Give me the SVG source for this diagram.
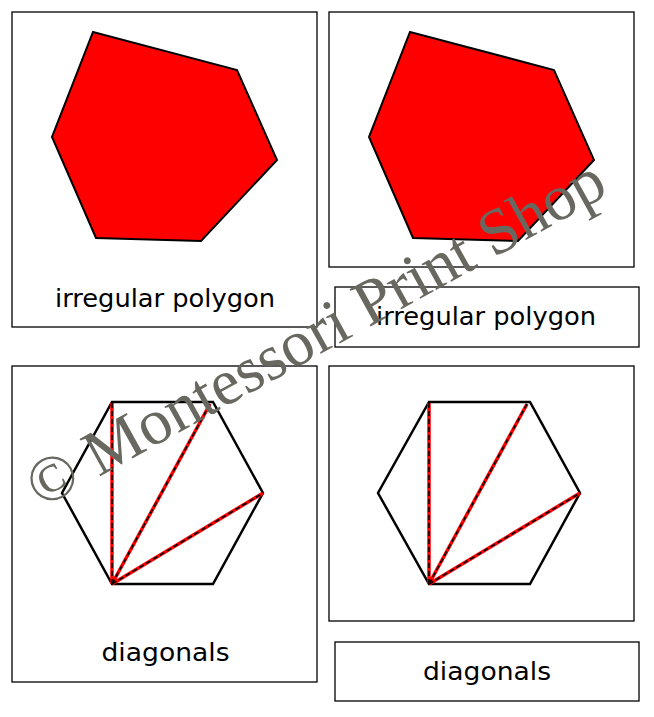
<svg xmlns="http://www.w3.org/2000/svg" width="654" height="717" viewBox="0 0 654 717">
<style>
.card{fill:#fff;stroke:#000;stroke-width:1.3}
.poly{fill:#ff0000;stroke:#000;stroke-width:2;stroke-linejoin:miter}
.hex{fill:none;stroke:#000;stroke-width:2.5;stroke-linejoin:miter}
.dr{stroke:#ff0000;stroke-width:3.5;fill:none}
.dk{stroke:#000;stroke-width:1.6;stroke-dasharray:5 3;fill:none}
.lbl{font-family:"Century Gothic","DejaVu Sans",sans-serif;font-size:24px;fill:#000;text-anchor:middle}
.wm{font-family:"Liberation Serif","Times New Roman",serif;font-size:65px;fill:#686860}
</style>
<rect width="654" height="717" fill="#fff"/>
<g id="card-polygon-labeled">
<rect class="card" x="12" y="12" width="305" height="315"/>
<polygon class="poly" points="93,32 237,70 277,160 201,241 96,238 52,137"/>
<text class="lbl" x="165" y="307" textLength="220" lengthAdjust="spacingAndGlyphs">irregular polygon</text>
</g>
<g id="card-polygon-picture">
<rect class="card" x="329" y="12" width="305" height="255"/>
<polygon class="poly" points="410,32 554,70 594,160 518,241 413,238 369,137"/>
</g>
<g id="label-polygon">
<rect class="card" x="335" y="287" width="304" height="60"/>
<text class="lbl" x="486" y="325" textLength="220" lengthAdjust="spacingAndGlyphs">irregular polygon</text>
</g>
<g id="card-diagonals-labeled">
<rect class="card" x="12" y="366" width="305" height="316"/>
<polygon class="hex" points="112,402 213,402 263,493 213,584 112,584 62,493"/>
<text class="lbl" x="165.5" y="661" textLength="128" lengthAdjust="spacingAndGlyphs">diagonals</text>
</g>
<g id="card-diagonals-picture">
<rect class="card" x="329" y="366" width="305" height="255"/>
<polygon class="hex" points="429,402 530,402 580,493 530,584 429,584 378,493"/>
</g>
<g id="label-diagonals">
<rect class="card" x="335" y="642" width="304" height="59"/>
<text class="lbl" x="487" y="680" textLength="128" lengthAdjust="spacingAndGlyphs">diagonals</text>
</g>
<g id="connectors">
<path class="dr" d="M112,584 L112,403 M112,584 L210,404 M112,584 L263,493"/>
<path class="dk" d="M112,584 L112,403 M112,584 L210,404 M112,584 L263,493"/>
<path class="dr" d="M429,584 L429,403 M429,584 L527,404 M429,584 L580,493"/>
<path class="dk" d="M429,584 L429,403 M429,584 L527,404 M429,584 L580,493"/>
</g>
<text class="wm" transform="translate(41,509) rotate(-29)">© Montessori Print Shop</text>
</svg>
